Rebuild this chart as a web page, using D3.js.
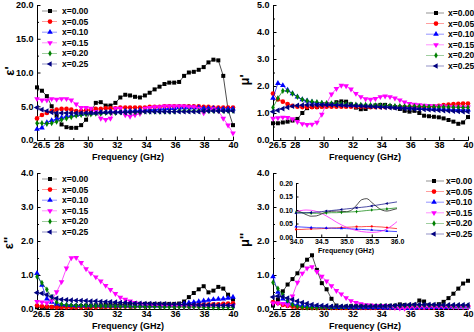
<!DOCTYPE html>
<html>
<head>
<meta charset="utf-8">
<style>
	body { margin:0; background:#fff; }
	svg { position:absolute; top:0px; left:0px; font-family:"Liberation Sans", Arial, sans-serif; font-weight:bold; }
	.axis path, .axis line { stroke:#000; stroke-width:1px; }
	.axis text { font-size:9px; font-weight:bold; fill:#000; }
	.inset .axis text { font-size:7px; }
	.series { fill:none; stroke-width:0.7px; }
	.legend text { font-size:8.5px; fill:#000; }
	.title { font-size:9px; fill:#000; }
	.ylab { font-size:13px; fill:#000; }
</style>
<script src="https://cdnjs.cloudflare.com/ajax/libs/d3/7.8.5/d3.min.js"></script>
</head>
<body>
<svg width="474" height="332"></svg>
<script>
// frequency grid (GHz)
var freq = [26.5,26.84,27.18,27.51,27.85,28.19,28.53,28.86,29.2,29.54,29.88,30.21,30.55,30.89,31.23,31.56,31.9,32.24,32.58,32.91,
	33.25,33.59,33.93,34.26,34.6,34.94,35.28,35.61,35.95,36.29,36.63,36.96,37.3,37.64,37.98,38.31,38.65,38.99,39.33,39.66,40.0];

var labels = ["x=0.00","x=0.05","x=0.10","x=0.15","x=0.20","x=0.25"];

// epsilon'
var er00 = [7.8,7.3,6.5,5.0,3.6,2.3,1.9,1.8,1.8,2.2,3.0,4.2,5.5,5.6,5.1,5.1,5.5,6.3,6.7,6.6,6.4,6.3,6.6,7.0,7.5,7.9,8.3,8.5,8.5,8.6,9.5,10.0,10.1,10.4,10.8,11.5,11.9,11.8,9.5,4.5,2.2];
var er05 = [3.2,3.7,4.0,4.3,4.5,4.6,4.6,4.5,4.3,4.3,4.4,4.5,4.6,4.6,4.7,4.7,4.7,4.8,4.8,4.8,4.8,4.8,4.8,4.9,4.9,4.9,5.0,5.0,5.0,5.0,5.0,5.0,5.0,5.0,4.9,4.9,4.8,4.8,4.8,4.8,4.8];
var er10 = [1.6,1.8,2.6,2.9,3.1,3.3,3.5,3.6,3.7,3.8,3.9,4.0,4.0,4.1,4.1,4.2,4.2,4.2,4.3,4.3,4.3,4.4,4.4,4.5,4.5,4.6,4.6,4.7,4.7,4.8,4.8,4.8,4.8,4.8,4.7,4.7,4.7,4.6,4.6,4.6,4.6];
var er15 = [6.1,5.9,5.9,6.1,6.0,6.1,6.1,5.9,5.3,4.8,4.8,4.7,4.2,3.2,3.0,3.2,4.7,4.7,3.7,3.5,3.7,3.9,4.7,4.8,4.9,4.9,5.0,5.0,5.0,5.0,5.0,4.9,4.9,4.7,4.0,4.4,4.6,4.3,3.2,2.2,1.0];
var er20 = [2.5,2.5,2.4,2.5,2.7,3.0,3.2,3.4,3.6,3.7,3.8,3.8,3.9,3.9,4.0,4.0,4.0,4.1,4.1,4.1,4.1,4.1,4.2,4.2,4.2,4.2,4.2,4.2,4.2,4.3,4.3,4.3,4.3,4.3,4.3,4.3,4.3,4.3,4.3,4.3,4.3];
var er25 = [4.8,4.5,4.3,4.1,4.0,4.0,4.0,4.0,4.0,4.0,4.0,4.0,4.0,4.1,4.1,4.1,4.1,4.1,4.1,4.1,4.2,4.2,4.2,4.2,4.2,4.2,4.2,4.2,4.2,4.2,4.2,4.2,4.2,4.2,4.3,4.3,4.3,4.3,4.3,4.3,4.3];

// mu'
var mr00 = [0.62,0.62,0.65,0.68,0.72,0.78,1.0,1.18,1.23,1.22,1.25,1.28,1.32,1.4,1.43,1.42,1.32,1.2,1.14,1.15,1.22,1.28,1.3,1.3,1.25,1.2,1.15,1.08,1.05,1.08,1.0,0.9,0.88,0.86,0.84,0.8,0.74,0.68,0.6,0.65,0.85];
var mr05 = [1.72,1.5,1.42,1.33,1.27,1.23,1.22,1.22,1.22,1.22,1.23,1.23,1.23,1.23,1.23,1.23,1.23,1.23,1.23,1.23,1.22,1.22,1.22,1.22,1.22,1.22,1.22,1.22,1.22,1.22,1.22,1.22,1.23,1.25,1.27,1.29,1.31,1.33,1.34,1.35,1.35];
var mr10 = [1.55,2.1,2.02,1.85,1.72,1.6,1.5,1.45,1.41,1.38,1.36,1.34,1.33,1.32,1.31,1.3,1.29,1.28,1.28,1.27,1.27,1.26,1.25,1.25,1.24,1.23,1.22,1.21,1.2,1.19,1.18,1.17,1.16,1.15,1.15,1.14,1.14,1.13,1.13,1.12,1.12];
var mr15 = [0.8,0.82,0.84,0.83,0.78,0.68,0.6,0.57,0.58,0.65,0.95,1.35,1.7,1.9,2.02,2.0,1.88,1.72,1.6,1.52,1.5,1.53,1.6,1.62,1.6,1.55,1.48,1.4,1.35,1.32,1.3,1.28,1.27,1.26,1.25,1.25,1.24,1.23,1.23,1.22,1.22];
var mr20 = [1.2,1.55,1.82,1.82,1.72,1.6,1.5,1.45,1.42,1.4,1.38,1.37,1.36,1.35,1.34,1.33,1.32,1.31,1.3,1.3,1.29,1.28,1.28,1.27,1.27,1.26,1.26,1.25,1.25,1.25,1.24,1.24,1.23,1.23,1.22,1.22,1.22,1.21,1.21,1.2,1.2];
var mr25 = [1.05,1.1,1.16,1.21,1.25,1.28,1.29,1.3,1.3,1.3,1.3,1.3,1.3,1.29,1.29,1.28,1.28,1.27,1.26,1.25,1.24,1.23,1.22,1.21,1.2,1.19,1.18,1.17,1.16,1.15,1.14,1.13,1.12,1.11,1.1,1.09,1.08,1.07,1.06,1.05,1.05];

// epsilon''
var ei00 = [0.05,0.05,0.06,0.06,0.07,0.07,0.08,0.08,0.09,0.09,0.1,0.1,0.11,0.11,0.12,0.12,0.13,0.13,0.14,0.14,0.15,0.15,0.15,0.15,0.15,0.15,0.15,0.15,0.15,0.16,0.22,0.35,0.47,0.58,0.67,0.49,0.54,0.65,0.6,0.42,0.28];
var ei05 = [0.1,0.08,0.07,0.06,0.05,0.05,0.05,0.05,0.05,0.05,0.05,0.05,0.05,0.06,0.06,0.06,0.06,0.07,0.07,0.07,0.07,0.08,0.08,0.08,0.09,0.09,0.09,0.1,0.1,0.1,0.11,0.11,0.12,0.12,0.13,0.13,0.14,0.14,0.15,0.16,0.17];
var ei10 = [1.05,0.7,0.3,0.2,0.15,0.13,0.12,0.11,0.1,0.1,0.1,0.1,0.1,0.1,0.09,0.09,0.09,0.09,0.09,0.09,0.09,0.09,0.09,0.09,0.09,0.09,0.09,0.1,0.1,0.12,0.15,0.18,0.2,0.22,0.24,0.26,0.28,0.29,0.3,0.32,0.35];
var ei15 = [0.22,0.2,0.18,0.25,0.5,0.8,1.2,1.5,1.51,1.36,1.18,1.05,0.94,0.82,0.69,0.57,0.45,0.34,0.28,0.23,0.19,0.15,0.13,0.12,0.1,0.09,0.08,0.08,0.07,0.07,0.06,0.06,0.06,0.07,0.07,0.08,0.08,0.09,0.09,0.1,0.1];
var ei20 = [0.95,0.77,0.57,0.35,0.2,0.14,0.12,0.11,0.1,0.1,0.1,0.09,0.09,0.09,0.09,0.08,0.08,0.08,0.08,0.08,0.07,0.07,0.07,0.07,0.07,0.07,0.06,0.06,0.06,0.06,0.06,0.06,0.06,0.06,0.05,0.05,0.05,0.05,0.05,0.05,0.05];
var ei25 = [0.48,0.46,0.42,0.36,0.31,0.28,0.27,0.26,0.25,0.25,0.24,0.23,0.23,0.22,0.21,0.21,0.2,0.19,0.19,0.18,0.17,0.17,0.16,0.16,0.15,0.15,0.15,0.14,0.14,0.14,0.13,0.13,0.13,0.12,0.12,0.12,0.12,0.11,0.11,0.11,0.1];

// mu''
var mi00 = [0.1,0.28,0.52,0.72,0.88,1.05,1.28,1.45,1.58,1.15,0.76,0.58,0.3,0.1,0.06,0.07,0.08,0.08,0.09,0.09,0.09,0.09,0.09,0.08,0.09,0.095,0.135,0.115,0.1,0.12,0.25,0.22,0.1,0.1,0.14,0.21,0.32,0.45,0.6,0.75,0.83];
var mi05 = [0.2,0.17,0.12,0.09,0.07,0.05,0.04,0.04,0.03,0.03,0.03,0.03,0.03,0.03,0.03,0.03,0.03,0.03,0.03,0.03,0.03,0.03,0.03,0.03,0.03,0.033,0.037,0.038,0.035,0.035,0.04,0.04,0.05,0.05,0.06,0.06,0.07,0.07,0.08,0.08,0.08];
var mi10 = [0.95,0.5,0.3,0.2,0.15,0.12,0.1,0.09,0.08,0.07,0.06,0.06,0.05,0.05,0.05,0.05,0.04,0.04,0.04,0.04,0.04,0.04,0.04,0.037,0.034,0.032,0.029,0.025,0.021,0.03,0.04,0.04,0.05,0.05,0.05,0.05,0.05,0.06,0.06,0.06,0.06];
var mi15 = [0.17,0.17,0.16,0.12,0.38,0.78,1.05,1.2,1.24,1.1,0.96,0.82,0.68,0.54,0.44,0.33,0.24,0.19,0.15,0.12,0.11,0.1,0.095,0.099,0.078,0.045,0.021,0.018,0.05,0.06,0.06,0.06,0.06,0.06,0.06,0.06,0.06,0.06,0.06,0.06,0.06];
var mi20 = [0.78,0.6,0.42,0.25,0.12,0.07,0.05,0.04,0.04,0.04,0.05,0.05,0.05,0.06,0.06,0.06,0.07,0.07,0.07,0.08,0.08,0.08,0.09,0.088,0.088,0.09,0.094,0.1,0.105,0.11,0.11,0.11,0.11,0.11,0.11,0.11,0.1,0.1,0.1,0.1,0.1];
var mi25 = [0.35,0.38,0.36,0.32,0.28,0.23,0.19,0.16,0.13,0.11,0.1,0.09,0.08,0.08,0.08,0.08,0.08,0.08,0.08,0.08,0.08,0.085,0.088,0.091,0.095,0.1,0.108,0.117,0.127,0.13,0.13,0.13,0.13,0.13,0.12,0.12,0.12,0.12,0.12,0.12,0.12];

// inset of mu'' (34-36 GHz)
var insetFreq = [34.0,34.1,34.2,34.3,34.4,34.5,34.6,34.7,34.8,34.9,35.0,35.1,35.2,35.3,35.4,35.5,35.6,35.7,35.8,35.9,36.0];
var ins00 = [0.098,0.092,0.083,0.077,0.078,0.085,0.092,0.095,0.096,0.095,0.094,0.1,0.118,0.138,0.142,0.128,0.112,0.1,0.096,0.1,0.105];
var ins05 = [0.028,0.028,0.029,0.03,0.03,0.031,0.032,0.033,0.034,0.035,0.036,0.037,0.038,0.038,0.039,0.039,0.038,0.037,0.035,0.033,0.031];
var ins10 = [0.038,0.037,0.036,0.035,0.034,0.034,0.033,0.033,0.032,0.032,0.031,0.03,0.029,0.028,0.027,0.026,0.025,0.024,0.022,0.021,0.02];
var ins15 = [0.094,0.098,0.1,0.099,0.095,0.088,0.078,0.067,0.055,0.045,0.036,0.029,0.024,0.02,0.018,0.017,0.018,0.022,0.03,0.042,0.057];
var ins20 = [0.092,0.09,0.089,0.088,0.088,0.088,0.089,0.09,0.09,0.091,0.092,0.093,0.094,0.096,0.098,0.1,0.101,0.103,0.104,0.106,0.108];
var ins25 = [0.088,0.089,0.09,0.091,0.092,0.094,0.096,0.098,0.1,0.102,0.104,0.106,0.108,0.11,0.112,0.115,0.118,0.121,0.124,0.127,0.13];

// tick values
var xTickVals = [26.5,28,30,32,34,36,38,40];
var xMinorVals = [27,29,31,33,35,37,39];
var yTicksEr = [0,5,10,15,20];
var yTicksMr = [0,1,2,3,4,5];
var yTicksIm = [0,1,2,3,4];
var insXTicks = [34.0,34.5,35.0,35.5,36.0];
var insYTicks = [0,0.05,0.10,0.15,0.20];

var colors = ["#000000","#ff0000","#0000ff","#ff00ff","#008000","#000080"];
var shapes = [d3.symbolSquare, d3.symbolCircle, d3.symbolTriangle, d3.symbolTriangle, d3.symbolDiamond, d3.symbolTriangle];
var sizes = [16, 17, 14, 14, 11, 14];
var rots = [0, 0, 0, 180, 0, -90];

var svg = d3.select("svg");

var panels = [
	{x0:37, x1:233, y0:5, y1:140, ymax:20, yt:yTicksEr, ylab:"ε'", lx:13.5, ly:71, tx:128, ty:160,
		series:[er00,er05,er10,er15,er20,er25], legX:50, legY:11, legLine:[-8,7]},
	{x0:273, x1:468, y0:5, y1:140, ymax:5, yt:yTicksMr, ylab:"μ'", lx:249, ly:80, tx:365, ty:160,
		series:[mr00,mr05,mr10,mr15,mr20,mr25], legX:436, legY:13, legLine:[-10,8]},
	{x0:37, x1:233, y0:173, y1:309, ymax:4, yt:yTicksIm, ylab:"ε''", lx:12.5, ly:243, tx:128, ty:329,
		series:[ei00,ei05,ei10,ei15,ei20,ei25], legX:50, legY:179, legLine:[-8,7]},
	{x0:273, x1:468, y0:173, y1:309, ymax:4, yt:yTicksIm, ylab:"μ''", lx:249, ly:240, tx:365, ty:329,
		series:[mi00,mi05,mi10,mi15,mi20,mi25], legX:434, legY:181, legLine:[-8,10]}
];

function symbolPath(k, s) {
	return d3.symbol().type(shapes[k]).size(s || sizes[k])();
}

function drawPanel(p) {
	var g = svg.append("g");
	var x = d3.scaleLinear().domain([26.5,40]).range([p.x0,p.x1]);
	var y = d3.scaleLinear().domain([0,p.ymax]).range([p.y1,p.y0]);
	var step = p.yt[1] - p.yt[0];
	var yMinor = p.yt.slice(0,-1).map(function(d) { return d + step/2; });

	g.append("g").attr("class","axis")
		.attr("transform","translate(0," + p.y1 + ")")
		.call(d3.axisBottom(x).tickValues(xMinorVals).tickSize(-2).tickSizeOuter(0).tickFormat(""));
	var xa = g.append("g").attr("class","axis")
		.attr("transform","translate(0," + p.y1 + ")")
		.call(d3.axisBottom(x).tickValues(xTickVals).tickSize(-3.5).tickSizeOuter(0).tickPadding(2).tickFormat(d3.format("")));
	// first label sits a little right of the axis corner, as in the original
	xa.selectAll(".tick text").filter(function(d) { return d === 26.5; }).attr("dx", 4);
	g.append("g").attr("class","axis")
		.attr("transform","translate(" + p.x0 + ",0)")
		.call(d3.axisLeft(y).tickValues(yMinor).tickSize(-2).tickSizeOuter(0).tickFormat(""));
	g.append("g").attr("class","axis")
		.attr("transform","translate(" + p.x0 + ",0)")
		.call(d3.axisLeft(y).tickValues(p.yt).tickSize(-3.5).tickSizeOuter(0).tickPadding(3.5).tickFormat(d3.format(".1f")));

	g.append("text").attr("class","title")
		.attr("x", p.tx).attr("y", p.ty)
		.attr("text-anchor","middle")
		.text("Frequency (GHz)");
	g.append("text").attr("class","ylab")
		.attr("transform","translate(" + p.lx + "," + p.ly + ") rotate(-90)")
		.attr("text-anchor","middle")
		.text(p.ylab);

	var line = d3.line()
		.x(function(d, i) { return x(freq[i]); })
		.y(function(d) { return y(d); });

	p.series.forEach(function(vals, k) {
		g.append("path").attr("class","series")
			.attr("d", line(vals))
			.attr("stroke", colors[k]);
		g.append("g").selectAll("path").data(vals).enter().append("path")
			.attr("d", symbolPath(k))
			.attr("fill", colors[k])
			.attr("transform", function(d, i) { return "translate(" + x(freq[i]) + "," + y(d) + ") rotate(" + rots[k] + ")"; });
	});

	var leg = g.append("g").attr("class","legend");
	labels.forEach(function(lab, k) {
		var yy = p.legY + k * 10.6;
		leg.append("line")
			.attr("x1", p.legX + p.legLine[0]).attr("x2", p.legX + p.legLine[1])
			.attr("y1", yy).attr("y2", yy)
			.attr("stroke", colors[k]).attr("stroke-width", 0.7).attr("opacity", 0.6);
		leg.append("path")
			.attr("d", symbolPath(k))
			.attr("fill", colors[k])
			.attr("transform", "translate(" + p.legX + "," + yy + ") rotate(" + rots[k] + ")");
		leg.append("text")
			.attr("x", p.legX + 12).attr("y", yy)
			.attr("dy", "0.35em")
			.text(lab);
	});
}

panels.forEach(drawPanel);

// inset
var inset = svg.append("g").attr("class","inset");
var ix = d3.scaleLinear().domain([34,36]).range([296,397]);
var iy = d3.scaleLinear().domain([0,0.2]).range([237,183]);
inset.append("g").attr("class","axis")
	.attr("transform","translate(0,237)")
	.call(d3.axisBottom(ix).tickValues(insXTicks).tickSize(-2.5).tickSizeOuter(0).tickPadding(2).tickFormat(d3.format(".1f")));
inset.append("g").attr("class","axis")
	.attr("transform","translate(296,0)")
	.call(d3.axisLeft(iy).tickValues(insYTicks).tickSize(-2.5).tickSizeOuter(0).tickPadding(3).tickFormat(d3.format(".2f")));
inset.append("text").attr("class","title")
	.attr("x", 346).attr("y", 253)
	.attr("text-anchor","middle")
	.style("font-size","7px")
	.text("Frequency (GHz)");

var iline = d3.line()
	.x(function(d, i) { return ix(insetFreq[i]); })
	.y(function(d) { return iy(d); })
	.curve(d3.curveMonotoneX);

[ins00,ins05,ins10,ins15,ins20,ins25].forEach(function(vals, k) {
	inset.append("path").attr("class","series")
		.attr("d", iline(vals))
		.attr("stroke", colors[k])
		.attr("stroke-width", 0.9);
	if (k > 0 && k !== 3) {
		inset.append("g").selectAll("path").data(vals).enter()
			.filter(function(d, i) { return i % 3 === 0; })
			.append("path")
			.attr("d", symbolPath(k, 4))
			.attr("fill", colors[k])
			.attr("transform", function(d, i) { return "translate(" + ix(insetFreq[i*3]) + "," + iy(d) + ") rotate(" + rots[k] + ")"; });
	}
});
</script>
</body>
</html>
